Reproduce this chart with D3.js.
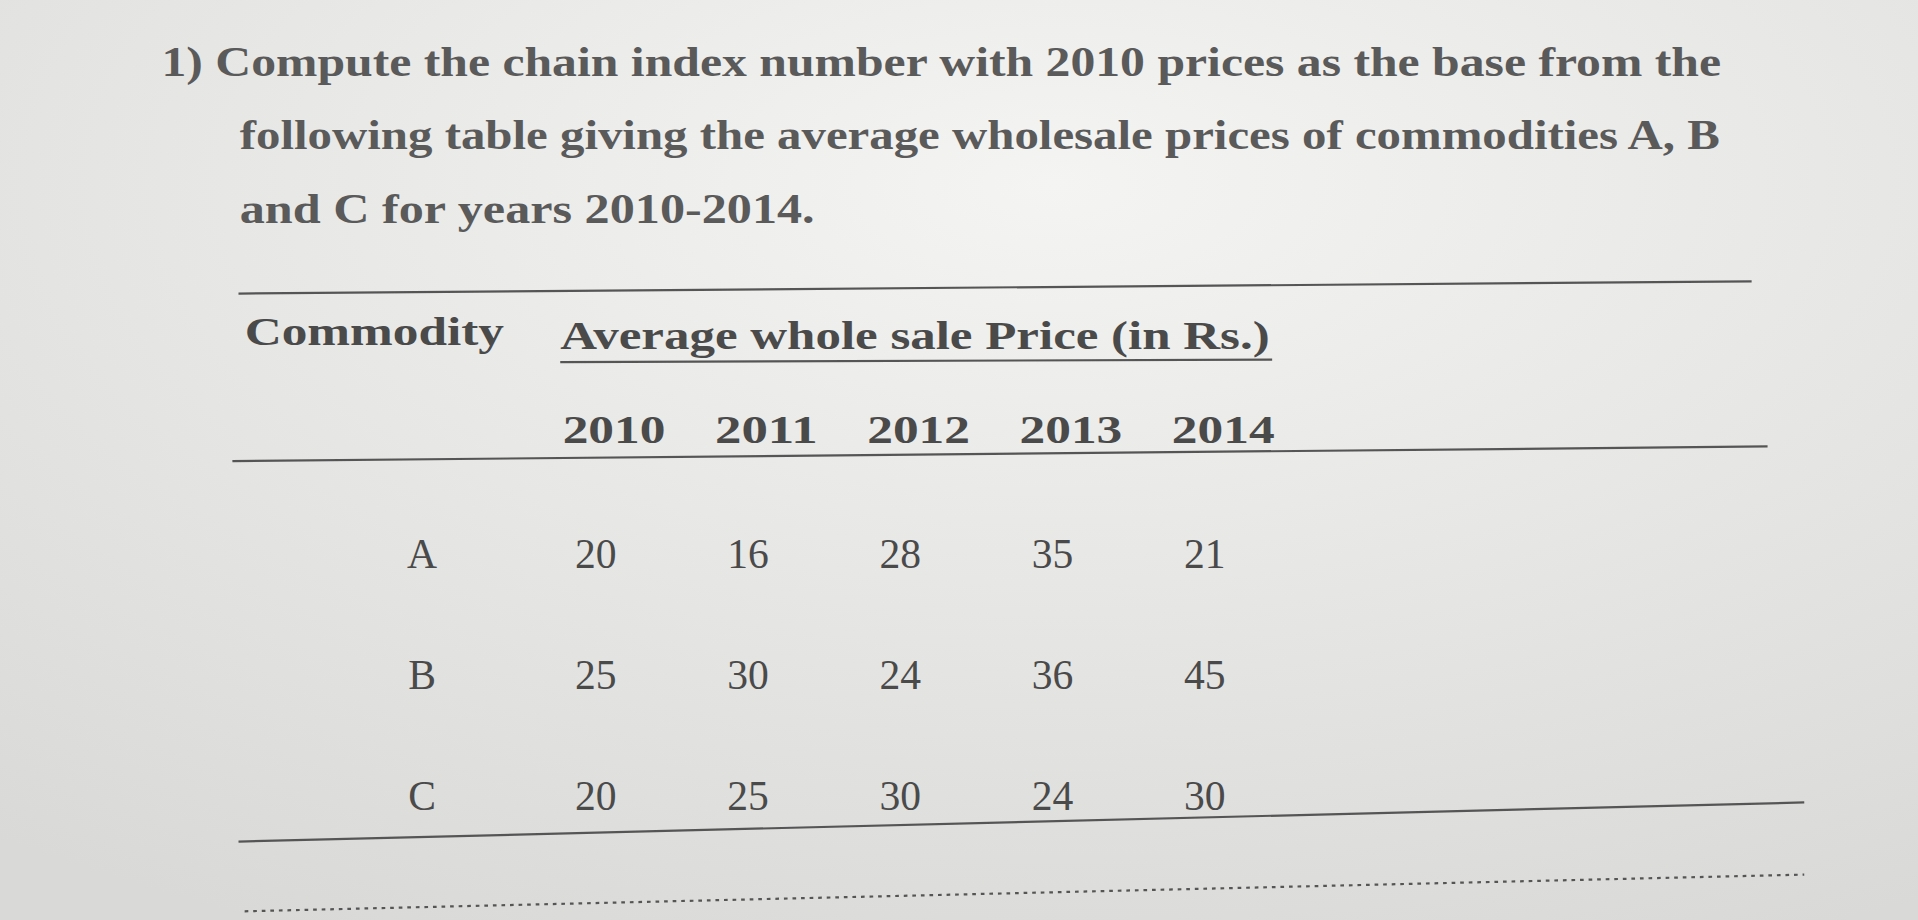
<!DOCTYPE html>
<html><head><meta charset="utf-8">
<script src="https://cdn.jsdelivr.net/npm/d3@7"></script>
<style>body{margin:0;background:#e9e9e7;overflow:hidden}</style>
</head><body>
<svg id="c" width="1918" height="920"></svg>
<script>
const titleLines = ["1) Compute the chain index number with 2010 prices as the base from the",
 "following table giving the average wholesale prices of commodities A, B",
 "and C for years 2010-2014."];
const years = ["2010","2011","2012","2013","2014"];
const commodities = ["A","B","C"];
const valuesA = [20,16,28,35,21];
const valuesB = [25,30,24,36,45];
const valuesC = [20,25,30,24,30];
const rows = [valuesA, valuesB, valuesC];

const k = 1918/1568;
const svg = d3.select("#c");
const defs = svg.append("defs");
const g = defs.append("radialGradient").attr("id","bg").attr("cx","55%").attr("cy","20%").attr("r","90%");
g.append("stop").attr("offset","0%").attr("stop-color","#f4f4f2");
g.append("stop").attr("offset","100%").attr("stop-color","#d9d9d7");
svg.append("rect").attr("width",1918).attr("height",920).attr("fill","url(#bg)");
const root = svg.append("g").attr("transform",`scale(${k})`);
const font = "Liberation Serif, serif";
const ink = "#4a4a4a";

const ty = d3.scalePoint().domain(d3.range(titleLines.length)).range([62,182]);
root.selectAll("text.t").data(titleLines).join("text")
 .attr("x",(d,i)=>i===0?132:196).attr("y",(d,i)=>ty(i))
 .attr("font-family",font).attr("font-weight","bold").attr("font-size",35)
 .attr("fill","#5a5a5a").attr("textLength",(d,i)=>[1275,1210,470][i]).attr("lengthAdjust","spacingAndGlyphs")
 .text(d=>d);

const line=(x1,y1,x2,y2,dash)=>root.append("line").attr("x1",x1).attr("y1",y1).attr("x2",x2).attr("y2",y2)
 .attr("stroke","#555").attr("stroke-width",1.8).attr("stroke-dasharray",dash||null);
line(195,240,1432,230);
line(190,377,1445,365);
line(195,688,1475,656);
line(200,745,1475,715,"3,4");

root.append("text").attr("x",200).attr("y",282).attr("font-family",font).attr("font-weight","bold")
 .attr("font-size",32).attr("fill",ink).attr("textLength",212).attr("lengthAdjust","spacingAndGlyphs").text("Commodity");
root.append("text").attr("x",458).attr("y",285).attr("font-family",font).attr("font-weight","bold")
 .attr("font-size",32).attr("fill",ink).attr("textLength",580).attr("lengthAdjust","spacingAndGlyphs")
 .text("Average whole sale Price (in Rs.)");
line(458,296,1040,294);

const x = d3.scalePoint().domain(years).range([502,1000]);
root.selectAll("text.y").data(years).join("text").attr("x",d=>x(d)).attr("y",362)
 .attr("text-anchor","middle").attr("font-family",font).attr("font-weight","bold")
 .attr("font-size",32).attr("fill",ink).attr("textLength",84).attr("lengthAdjust","spacingAndGlyphs").text(d=>d);

const y = d3.scalePoint().domain(commodities).range([464,662]);
commodities.forEach((c,i)=>{
 root.append("text").attr("x",345).attr("y",y(c)).attr("text-anchor","middle")
  .attr("font-family",font).attr("font-size",34).attr("fill",ink).text(c);
 root.selectAll(null).data(rows[i]).join("text")
  .attr("x",(d,j)=>x(years[j])-15).attr("y",y(c)).attr("text-anchor","middle")
  .attr("font-family",font).attr("font-size",34).attr("fill",ink).text(d=>d);
});
</script></body></html>
